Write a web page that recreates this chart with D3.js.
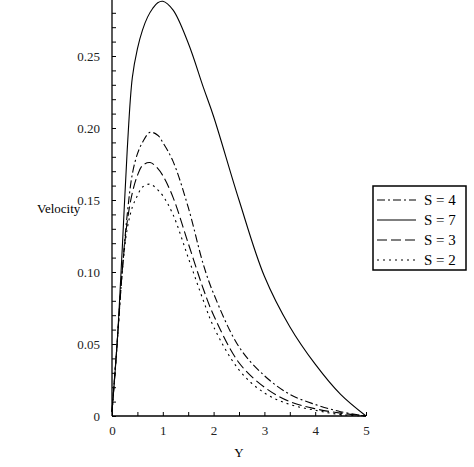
<!DOCTYPE html><html><head><script src="https://cdn.jsdelivr.net/npm/d3@7"></script>
<style>body{margin:0;background:#fff}text{font-family:"Liberation Serif","DejaVu Serif",serif}</style></head><body><svg width="474" height="467"></svg><script>
const xs=[0,0.1,0.2,0.3,0.4,0.5,0.6,0.75,0.9,1,1.2,1.5,1.8,2,2.5,3,3.5,4,4.5,5];
const s7x=[0,0.1,0.2,0.3,0.4,0.5,0.6,0.7,0.8,0.9,1,1.2,1.5,1.8,2,2.5,3,3.5,4,4.5,5];
const s7=[0.003,0.05,0.115,0.185,0.235,0.255,0.268,0.277,0.283,0.287,0.288,0.282,0.259,0.228,0.208,0.15,0.097,0.062,0.036,0.015,0];
const s4=[0.003,0.05,0.1,0.14,0.168,0.182,0.19,0.197,0.195,0.19,0.177,0.145,0.105,0.085,0.048,0.028,0.015,0.008,0.003,0];
const s3=[0.003,0.05,0.1,0.135,0.155,0.167,0.174,0.176,0.172,0.167,0.152,0.12,0.088,0.07,0.037,0.02,0.01,0.005,0.002,0];
const s2=[0.003,0.05,0.1,0.13,0.145,0.153,0.159,0.161,0.157,0.153,0.14,0.11,0.08,0.062,0.032,0.016,0.008,0.004,0.001,0];
const labels=["S = 4","S = 7","S = 3","S = 2"];
const dashes=["8,3,2,3",null,"10,4","2,4"];
const svg=d3.select("svg");
const x=d3.scaleLinear().domain([0,5]).range([112,366]);
const y=d3.scaleLinear().domain([0,0.05]).range([416,344]);
const yTop=y.invert(0);
svg.append("g").attr("transform","translate(0,416)").call(d3.axisBottom(x).tickValues([0,1,2,3,4,5]).tickFormat(d3.format("d")).tickSize(0).tickPadding(10));
svg.append("g").attr("transform","translate(0,416)").call(d3.axisTop(x).tickValues(d3.range(0,5.01,0.5)).tickFormat("").tickSize(4).tickSizeOuter(0));
svg.append("g").attr("transform","translate(112,0)").call(d3.axisLeft(y).tickValues([0,0.05,0.1,0.15,0.2,0.25]).tickFormat(d=>d===0?"0":d3.format(".2f")(d)).tickSize(0).tickPadding(12));
svg.append("g").attr("transform","translate(112,0)").call(d3.axisRight(y).tickValues(d3.range(0,0.2885,0.01)).tickFormat("").tickSize(4).tickSizeOuter(0));
svg.selectAll(".domain").remove();
svg.append("line").attr("x1",x(0)).attr("x2",x(5)).attr("y1",y(0)).attr("y2",y(0)).attr("stroke","#000").attr("stroke-width",1.3);
svg.append("line").attr("x1",x(0)).attr("x2",x(0)).attr("y1",y(0)).attr("y2",y(yTop)).attr("stroke","#000").attr("stroke-width",1.3);
svg.selectAll(".tick text").attr("font-size",13).attr("fill","#222");
const line=d3.line().x(d=>x(d[0])).y(d=>y(d[1])).curve(d3.curveCatmullRom);
const series=[[xs,s4],[s7x,s7],[xs,s3],[xs,s2]];
series.forEach((s,i)=>{svg.append("path").attr("d",line(s[0].map((v,j)=>[v,s[1][j]]))).attr("fill","none").attr("stroke","#000").attr("stroke-width",1.1).attr("stroke-dasharray",dashes[i]);});
svg.append("text").attr("x",37).attr("y",213).attr("font-size",13).text("Velocity");
svg.append("text").attr("x",239).attr("y",457).attr("text-anchor","middle").attr("font-size",13).text("Y");
svg.append("rect").attr("x",373).attr("y",186).attr("width",93).attr("height",84).attr("fill","#fff").attr("stroke","#000").attr("stroke-width",1.5);
labels.forEach((l,i)=>{const yy=200+i*20;svg.append("line").attr("x1",377).attr("x2",416).attr("y1",yy).attr("y2",yy).attr("stroke","#000").attr("stroke-width",1.1).attr("stroke-dasharray",dashes[i]);svg.append("text").attr("x",424).attr("y",yy+5).attr("font-size",15).text(l);});
</script></body></html>
